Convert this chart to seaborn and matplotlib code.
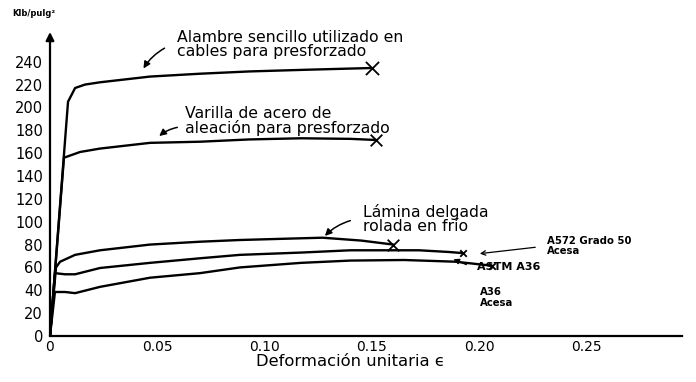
import numpy as np
import pandas as pd
import matplotlib
matplotlib.use("Agg")
import matplotlib.pyplot as plt
import seaborn as sns

# ---- data (strain, stress in Klb/pulg2) ----
alambre_x = [0, 0.0084, 0.0117, 0.0163, 0.0233, 0.0466, 0.0699, 0.093, 0.12, 0.150]
alambre_y = [0, 205, 217, 220, 222, 227, 229.5, 231.5, 233, 234.5]

varilla_x = [0, 0.0065, 0.014, 0.0233, 0.0466, 0.0699, 0.093, 0.117, 0.14, 0.152]
varilla_y = [0, 156, 161, 164, 169, 170, 172, 173, 172.5, 171.5]

lamina_x = [0, 0.0028, 0.0047, 0.0117, 0.0233, 0.0466, 0.0699, 0.0885, 0.117, 0.127, 0.145, 0.160]
lamina_y = [0, 60, 65, 71, 75, 80, 82.5, 84, 85.5, 86, 83.5, 80]

a572_x = [0, 0.0023, 0.007, 0.0117, 0.0233, 0.0466, 0.0699, 0.0885, 0.117, 0.14, 0.172, 0.186, 0.1925]
a572_y = [0, 55, 54, 54, 59.5, 64, 68, 71, 73, 75, 75, 73.5, 72.5]

a36_x = [0, 0.0023, 0.007, 0.0117, 0.0233, 0.0466, 0.0699, 0.0885, 0.117, 0.14, 0.165, 0.189, 0.206]
a36_y = [0, 38.5, 38.5, 37.5, 43, 51, 55, 60, 64, 66, 66.5, 65, 61.5]

x_ticks = [0, 0.05, 0.10, 0.15, 0.20, 0.25]
x_ticklabels = ["0", "0.05", "0.10", "0.15", "0.20", "0.25"]
y_ticks = [0, 20, 40, 60, 80, 100, 120, 140, 160, 180, 200, 220, 240]

curves = {
    "alambre": (alambre_x, alambre_y),
    "varilla": (varilla_x, varilla_y),
    "lamina": (lamina_x, lamina_y),
    "a572": (a572_x, a572_y),
    "a36": (a36_x, a36_y),
}
marker_sizes = {"alambre": 90, "varilla": 70, "lamina": 70, "a572": 22, "a36": 22}

sns.set_style("white")
plt.rcParams["font.family"] = ["DejaVu Sans"]
plt.rcParams["text.color"] = "black"
plt.rcParams["xtick.color"] = "black"
plt.rcParams["ytick.color"] = "black"

fig = plt.figure(figsize=(6.96, 3.82), dpi=100)
ax = fig.add_axes([50/696, 1-336/382, 632/696, 304/382])

for name, (xs, ys) in curves.items():
    df = pd.DataFrame({"strain": xs, "stress": ys})
    sns.lineplot(data=df, x="strain", y="stress", sort=False, estimator=None,
                 color="black", linewidth=1.7, ax=ax)
    end = df.iloc[[-1]]
    sns.scatterplot(data=end, x="strain", y="stress", marker="x", color="black",
                    s=marker_sizes[name], linewidth=1.3, ax=ax, zorder=5)

ax.set_xlim(0, 0.2945)
ax.set_ylim(0, 266)
ax.set_xlabel("")
ax.set_ylabel("")
ax.set_xticks(x_ticks)
ax.set_xticklabels(x_ticklabels)
ax.set_yticks(y_ticks)
ax.set_yticklabels([str(v) for v in y_ticks])
ax.tick_params(axis="x", direction="in", length=7, width=1, pad=3, labelsize=10,
               colors="black")
ax.tick_params(axis="y", direction="in", length=11, width=1, pad=5, labelsize=10.5,
               colors="black")
for s in ["top", "right", "left"]:
    ax.spines[s].set_visible(False)
ax.spines["bottom"].set_linewidth(1.6)
ax.spines["bottom"].set_color("black")
ax.annotate("", xy=(0, 1.0), xytext=(0, 0), xycoords="axes fraction",
            arrowprops=dict(arrowstyle="-|>", color="black", lw=1.6,
                            mutation_scale=12, shrinkA=0, shrinkB=0))

txt_kw = dict(fontsize=11.3, color="black", linespacing=0.95, va="center", ha="left")
ax.text(0.0592, 255, "Alambre sencillo utilizado en\ncables para presforzado", **txt_kw)
ax.annotate("", xy=(0.0429, 232), xytext=(0.0545, 253),
            arrowprops=dict(arrowstyle="-|>", color="black", lw=1.1,
                            connectionstyle="arc3,rad=0.15", mutation_scale=10))
ax.text(0.0629, 188, "Varilla de acero de\naleación para presforzado", **txt_kw)
ax.annotate("", xy=(0.0499, 173.4), xytext=(0.0606, 183),
            arrowprops=dict(arrowstyle="-|>", color="black", lw=1.1,
                            connectionstyle="arc3,rad=0.15", mutation_scale=10))
ax.text(0.1459, 102.5, "Lámina delgada\nrolada en frío", **txt_kw)
ax.annotate("", xy=(0.1272, 85.8), xytext=(0.1412, 101.6),
            arrowprops=dict(arrowstyle="-|>", color="black", lw=1.1,
                            connectionstyle="arc3,rad=0.15", mutation_scale=10))

small_kw = dict(fontsize=7.3, fontweight="bold", color="black", linespacing=1.1,
                va="center", ha="left")
ax.text(0.2316, 78.8, "A572 Grado 50\nAcesa", **small_kw)
ax.annotate("", xy=(0.199, 71.8), xytext=(0.2274, 77.9),
            arrowprops=dict(arrowstyle="->", color="black", lw=0.9, mutation_scale=8))
ax.text(0.1990, 60.4, "ASTM A36", fontsize=8, fontweight="bold", color="black",
        va="center", ha="left")
ax.annotate("", xy=(0.1880, 67.2), xytext=(0.1940, 62.5),
            arrowprops=dict(arrowstyle="-|>", color="black", lw=1.0, mutation_scale=8,
                            shrinkA=0, shrinkB=0))
ax.text(0.2004, 34, "A36\nAcesa", **small_kw)

fig.text(12/696, 1-14/382, "Klb/pulg²", fontsize=6, fontweight="bold", color="black",
         ha="left", va="center")
fig.text(350/696, 1-361/382, "Deformación unitaria ϵ", fontsize=11.8, color="black",
         ha="center", va="center")

fig.savefig("out.png", dpi=100)
